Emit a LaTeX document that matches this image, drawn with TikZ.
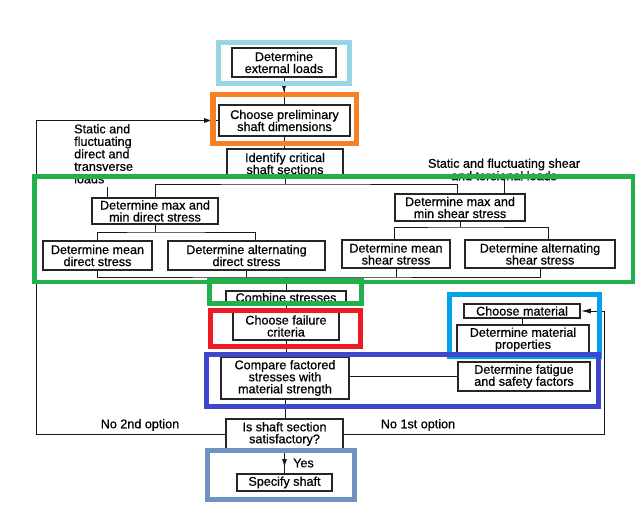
\documentclass[tikz,border=0pt]{standalone}
\usepackage{fontspec}
\setmainfont{Liberation Sans}[FakeBold=0.7]
\usetikzlibrary{arrows.meta,decorations.markings}
\definecolor{fLightBlue}{RGB}{152,214,230}
\definecolor{fOrange}{RGB}{245,128,37}
\definecolor{fGreen}{RGB}{34,176,76}
\definecolor{fRed}{RGB}{237,28,36}
\definecolor{fBlue}{RGB}{63,72,204}
\definecolor{fCyan}{RGB}{0,162,232}
\definecolor{fSteel}{RGB}{112,146,190}
\tikzset{
  box/.style={draw=black!85, line width=1.6pt, fill=white, inner sep=0pt, align=center,
    font=\fontsize{12.6}{12}\selectfont},
  conn/.style={line width=0.9pt, black!90},
  lbl/.style={inner sep=0pt, font=\fontsize{12.6}{12.5}\selectfont},
  tipmid/.style={postaction={decorate}, decoration={markings, mark=at position #1 with {\arrow{Latex[length=8pt,width=5pt]}}}},
  frame/.style={line width=5pt}
}
\begin{document}
\begin{tikzpicture}[x=1pt,y=-1pt]
\useasboundingbox (0,0) rectangle (639,508);
% boxes
\node[box, minimum width=104, minimum height=29] (ext) at (284,62.5) {Determine\\external loads};
\node[box, minimum width=131, minimum height=31] (prelim) at (284.5,120.5) {Choose preliminary\\shaft dimensions};
\node[box, minimum width=116, minimum height=29] (ident) at (285,163.5) {Identify critical\\shaft sections};
\node[box, minimum width=126, minimum height=26] (maxdir) at (155,211) {Determine max and\\min direct stress};
\node[box, minimum width=130, minimum height=27] (maxshr) at (460,207.5) {Determine max and\\min shear stress};
\node[box, minimum width=109, minimum height=29] (meandir) at (97.5,255.5) {Determine mean\\direct stress};
\node[box, minimum width=157, minimum height=29] (altdir) at (246.5,255.5) {Determine alternating\\direct stress};
\node[box, minimum width=108, minimum height=28] (meanshr) at (396,254) {Determine mean\\shear stress};
\node[box, minimum width=150, minimum height=28] (altshr) at (540,254) {Determine alternating\\shear stress};
\node[box, minimum width=120, minimum height=13] (combine) at (286,297.5) {Combine stresses};
\node[box, minimum width=106, minimum height=28] (fail) at (286,326) {Choose failure\\criteria};
\node[box, minimum width=128, minimum height=42] (compare) at (285,378) {Compare factored\\stresses with\\material strength};
\node[box, minimum width=132, minimum height=29] (fatigue) at (524,376.5) {Determine fatigue\\and safety factors};
\node[box, minimum width=116, minimum height=14] (choosemat) at (522,311) {Choose material};
\node[box, minimum width=132, minimum height=29] (matprop) at (523,339.5) {Determine material\\properties};
\node[box, minimum width=117, minimum height=30] (isshaft) at (284.5,434) {Is shaft section\\satisfactory?};
\node[box, minimum width=95, minimum height=17] (specify) at (284.5,482.5) {Specify shaft};
% labels
\node[lbl, anchor=north west, align=left] (dload) at (74,124) {Static and\\fluctuating\\direct and\\transverse\\loads};
\node[lbl, align=center] (sload) at (504,169.5) {Static and fluctuating shear\\and torsional loads};
\node[lbl] (no2) at (140,425) {No 2nd option};
\node[lbl] (no1) at (418,425) {No 1st option};
\node[lbl, anchor=west] (yes) at (293,463) {Yes};
% coordinates
\coordinate (j1) at (285,184);
\coordinate (dl) at (107,187);
\coordinate (sl) at (504,180);
\coordinate (j2) at (156,232);
\coordinate (j3) at (461,227);
\coordinate (j5) at (286,277);
\coordinate (lc) at (36,0);
\coordinate (rc) at (604,0);
% connectors
\draw[conn, tipmid=15pt] (ext.south) -- (ext.south |- prelim.north);
\draw[conn] (prelim.south) -- (prelim.south |- ident.north);
\draw[conn] (ident.south) -- (ident.south |- j1);
\draw[conn] (maxdir.north) |- (j1) -| ([xshift=-3pt]maxshr.north);
\draw[conn] (dl) -- (dl |- maxdir.north);
\draw[conn] (sl) -- (sl |- maxshr.north);
\draw[conn] (maxdir.south) -- (maxdir.south |- j2);
\draw[conn] (meandir.north) |- (j2) -| ([xshift=8.5pt]altdir.north);
\draw[conn] (maxshr.south) -- (maxshr.south |- j3);
\draw[conn] ([xshift=-2pt]meanshr.north) |- (j3) -| ([xshift=8pt]altshr.north);
\draw[conn] (meandir.south) |- (j5) -| (altshr.south);
\draw[conn] (altdir.south) -- (altdir.south |- j5);
\draw[conn] (meanshr.south) -- (meanshr.south |- j5);
\draw[conn] (j5) -- (combine.north);
\draw[conn] (combine.south) -- (combine.south |- fail.north);
\draw[conn] (fail.south) -- (fail.south |- compare.north);
\draw[conn] (compare.south) -- (compare.south |- isshaft.north);
\draw[conn] (compare.east |- fatigue.west) -- (fatigue.west);
\draw[conn] (choosemat.south) -- (choosemat.south |- matprop.north);
\draw[conn, tipmid=-6pt] (isshaft.west) -| (lc |- prelim.west) -- (prelim.west);
\draw[conn, -{Latex[length=10pt,width=5pt]}] (isshaft.east) -| (rc |- choosemat.east) -- (choosemat.east);
\draw[conn, tipmid=-6pt] (isshaft.south) -- (isshaft.south |- specify.north);
% highlight frames
\draw[frame, fLightBlue] (218.5,42.5) rectangle (349.5,83.5);
\draw[frame, fOrange, line width=5.5pt] (212.75,94.75) rectangle (356.25,143.25);
\draw[frame, fGreen, line width=4.5pt] (34.25,176.25) rectangle (632.75,282);
\draw[frame, fGreen] (209.5,280.5) rectangle (361.5,303.5);
\draw[frame, fRed] (210.5,310.5) rectangle (360.5,346.5);
\draw[frame, fCyan] (449.5,294.5) rectangle (599.5,356.5);
\draw[frame, fBlue] (206.5,354.5) rectangle (598.5,406.5);
\draw[frame, fSteel] (207.5,450.5) rectangle (354.5,499.5);
\end{tikzpicture}
\end{document}
